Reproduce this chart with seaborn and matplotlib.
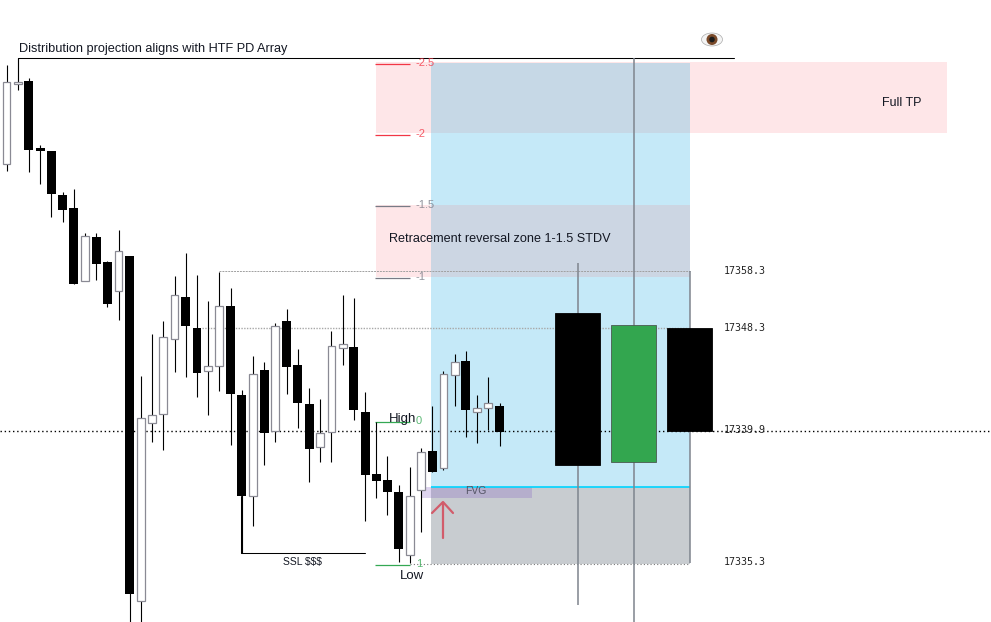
import numpy as np
import pandas as pd
import matplotlib.pyplot as plt
from matplotlib.patches import Rectangle, Ellipse, Circle
import seaborn as sns

# candles (screen y, the chart has no usable price scale)
body_top = [82, 81.5, 81, 148, 151, 195, 208, 236, 237, 262, 251, 256, 418, 415, 337, 295, 297, 328, 366, 306,
            306, 395, 374, 370, 326, 321, 365, 404, 433, 346, 344, 347, 412, 474, 480, 492, 496, 452, 451, 374,
            362, 361, 408, 403, 406]
body_bottom = [164, 83.5, 150, 151, 194, 210, 284, 281, 264, 304, 291, 594, 601, 423, 414, 339, 326, 373, 371, 366,
               394, 496, 496, 433, 431, 367, 403, 449, 447, 432, 348, 410, 475, 481, 492, 549, 555, 490, 472, 468,
               375, 410, 412, 408, 432]
wick_top = [65, 58, 78, 145, 151, 192, 189, 233, 233, 261, 230, 256, 376, 334, 321, 276, 253, 275, 301, 272,
            288, 390, 356, 362, 323, 309, 349, 388, 399, 331, 295, 298, 392, 422, 456, 485, 467, 448, 406, 371,
            354, 351, 395, 377, 403]
wick_bottom = [171, 90, 172, 184, 217, 222, 284, 281, 280, 307, 320, 622, 622, 442, 450, 372, 377, 397, 415, 391,
               445, 553, 526, 465, 442, 394, 428, 482, 462, 462, 365, 420, 521, 498, 515, 562, 563, 532, 472, 470,
               406, 437, 443, 430, 446]
candle_up = [1, 1, 0, 0, 0, 0, 0, 1, 0, 0, 1, 0, 1, 1, 1, 1, 0, 0, 1, 1,
             0, 0, 1, 0, 1, 0, 0, 0, 1, 1, 1, 0, 0, 0, 0, 0, 1, 1, 0, 1,
             1, 0, 1, 1, 0]

# the three projected candles on the right
big_x = [577.5, 633.5, 689.5]
big_top = [313, 325, 328]
big_bottom = [465, 462, 431]
big_wick_top = [263, 58, 271]
big_wick_bottom = [605, 622, 563]
big_color = ['black', '#33a64f', 'black']

# fib levels
fib_labels = ['-2.5', '-2', '-1.5', '-1', '0', '1']
fib_y = [63, 134, 205, 277, 421, 564]
fib_colors = ['#f23645', '#f23645', '#787b86', '#787b86', '#34a853', '#34a853']

price_labels = ['17358.3', '17348.3', '17339.9', '17335.3']
price_y = [271, 328, 430, 562]

df = pd.DataFrame({'x': 6.5 + 11.205 * np.arange(len(body_top)),
                   'top': body_top, 'bottom': body_bottom,
                   'wtop': wick_top, 'wbottom': wick_bottom, 'up': candle_up})
df['height'] = df['bottom'] - df['top']

sns.set_theme(style='white')
plt.rcParams['font.family'] = ['Liberation Sans', 'DejaVu Sans']

fig = plt.figure(figsize=(9.91, 6.22), dpi=100)
ax = fig.add_axes([0, 0, 1, 1])

# zones
ax.add_patch(Rectangle((376, 62), 571, 71, color='#fee6e8', lw=0, zorder=1))
ax.add_patch(Rectangle((376, 205), 314, 72, color='#fee6e8', lw=0, zorder=1))
ax.add_patch(Rectangle((431, 63), 259, 424, color='#c5e9f8', lw=0, zorder=1.2))
ax.add_patch(Rectangle((431, 487), 259, 77, color='#c8ccd0', lw=0, zorder=1.2))
ax.add_patch(Rectangle((431, 63), 259, 70, color='#c6d8e6', lw=0, zorder=1.3))
ax.add_patch(Rectangle((431, 205), 259, 72, color='#ccd6e3', lw=0, zorder=1.3))
ax.add_patch(Rectangle((421, 487), 111, 11, color='#7e57c2', alpha=0.25, lw=0, zorder=1.4))
ax.plot([431, 690], [486.5, 486.5], color='#00d4ff', lw=1.2, solid_capstyle='butt', zorder=2.2)

# guide lines
ax.hlines(431, 0, 991, color='black', lw=1, ls=(0, (1, 2)), zorder=2)
ax.hlines(271, 219, 690, color='#a0a0a0', lw=0.7, ls=(0, (2, 1)), zorder=2)
ax.hlines(328, 202, 690, color='#a8a8a8', lw=1.0, ls=(0, (1, 1)), zorder=2)
ax.hlines(564, 410, 690, color='#777777', lw=0.8, ls=(0, (1, 2)), zorder=2)
ax.plot([18, 18, 734], [81, 58, 58], color='black', lw=0.75, zorder=2)
ax.plot([241, 241, 365], [496, 553, 553], color='black', lw=0.75, zorder=2)

for lab, y, c in zip(fib_labels, fib_y, fib_colors):
    ax.plot([375, 410], [y + 0.5, y + 0.5], color=c, lw=0.9, solid_capstyle='butt', zorder=2)
    ax.text(416, y, lab, color=c, fontsize=8, va='center', alpha=0.8, zorder=6)

# candles
ax.vlines(df['x'], df['wtop'], df['wbottom'], color='black', lw=0.8, zorder=2.5)
black = df[df['up'] == 0]
white = df[df['up'] == 1]
sns.barplot(data=black, x='x', y='height', bottom=black['top'], native_scale=True, width=0.8,
            color='black', saturation=1, errorbar=None, linewidth=0, ax=ax, zorder=3)
sns.barplot(data=white, x='x', y='height', bottom=white['top'], native_scale=True, width=0.7,
            color='white', saturation=1, errorbar=None, linewidth=0.9, edgecolor='#8a8a94', ax=ax, zorder=3)

# projected candles
ax.vlines(big_x, big_wick_top, big_wick_bottom, color='#80868f', lw=1.4, alpha=0.8, zorder=3.5)
for x, t, b, c in zip(big_x, big_top, big_bottom, big_color):
    ec = '#4a5a50' if c != 'black' else 'black'
    ax.add_patch(Rectangle((x - 22.5, t), 45, b - t, facecolor=c, edgecolor=ec, lw=0.6, zorder=4))

# arrow
ax.plot([443, 443], [538, 503], color='#d25c6b', lw=1.6, zorder=5)
ax.plot([432, 443, 453], [513, 502, 513], color='#d25c6b', lw=1.6, zorder=5)

# eye
ax.add_patch(Ellipse((712, 39.5), 21, 13, facecolor='#f4f4f4', edgecolor='#aaaaaa', lw=0.5, zorder=5))
ax.add_patch(Circle((712, 39.5), 5.5, facecolor='#7a4a2a', lw=0, zorder=6))
ax.add_patch(Circle((712, 39.5), 2.8, facecolor='#1c1c1c', lw=0, zorder=7))

# text
tc = '#131722'
ax.text(19, 49, 'Distribution projection aligns with HTF PD Array', fontsize=9.15, color=tc, va='center', zorder=6)
ax.text(882, 103.5, 'Full TP', fontsize=9, color=tc, va='center', zorder=6)
ax.text(389, 239, 'Retracement reversal zone 1-1.5 STDV', fontsize=9.1, color=tc, va='center', zorder=6)
ax.text(389, 419, 'High', fontsize=9.5, color=tc, va='center', zorder=6)
ax.text(400, 576, 'Low', fontsize=9.5, color=tc, va='center', zorder=6)
ax.text(302, 562, 'SSL $$$', fontsize=7.5, color=tc, ha='center', va='center', zorder=6)
ax.text(476, 491.5, 'FVG', fontsize=7.5, color='#555566', ha='center', va='center', zorder=6)
for lab, y in zip(price_labels, price_y):
    ax.text(724, y, lab, fontsize=7.2, family='DejaVu Sans Mono', color='#222222', va='center', zorder=6)

ax.set_xlim(0, 991)
ax.set_ylim(622, 0)
ax.axis('off')

fig.savefig('out.png', dpi=100)
